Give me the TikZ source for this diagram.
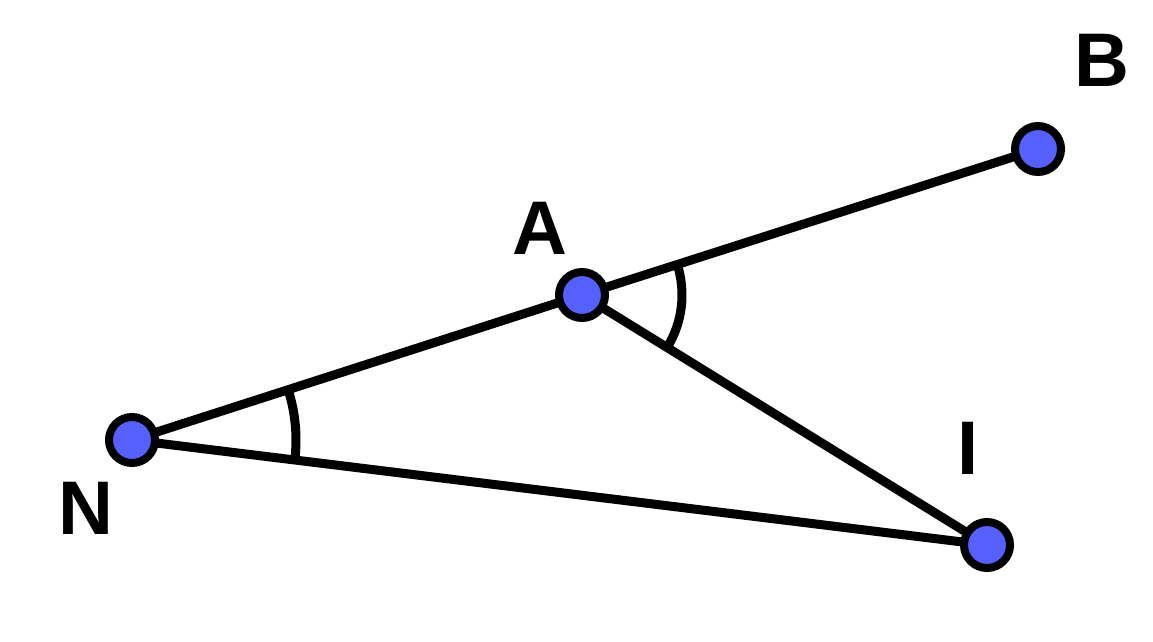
\documentclass[tikz,border=0pt]{standalone}
\usepackage{fontspec}
\setmainfont{Liberation Sans}
\begin{document}
\begin{tikzpicture}[x=1pt,y=-1pt,
  pt/.style={circle,draw=black,line width=8pt,fill=ptblue,minimum size=46pt,inner sep=0pt},
  seg/.style={line width=9pt},
  lab/.style={font=\fontsize{76}{76}\selectfont\bfseries}]
\definecolor{ptblue}{HTML}{5560FF}
\useasboundingbox (0,0) rectangle (1153,642);
\coordinate (n) at (132,440);
\coordinate (a) at (582,295);
\coordinate (b) at (1038,149);
\coordinate (i) at (987,545);
\draw[seg] (n) -- (a) -- (b);
\draw[seg] (a) -- (i) -- (n);
\draw[seg] ([shift={(7:164)}]n) arc[start angle=7,end angle=-17.9,radius=164];
\draw[seg] ([shift={(31.7:100)}]a) arc[start angle=31.7,end angle=-17.8,radius=100];
\node[pt] (N) at (n) {};
\node[pt] (A) at (a) {};
\node[pt] (B) at (b) {};
\node[pt] (I) at (i) {};
\node[lab] (lb) at (1102,60) {B};
\node[lab] (la) at (540,228) {A};
\node[lab] (ln) at (86,508) {N};
\node[lab] (li) at (968,448) {I};
\end{tikzpicture}
\end{document}
